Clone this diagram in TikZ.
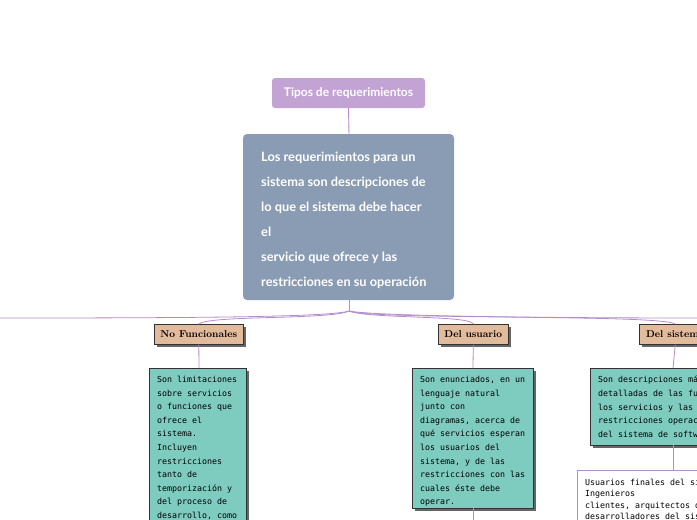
\documentclass[tikz,border=0pt]{standalone}
\usepackage{fontspec}
\newfontfamily\monof{DejaVu Sans Mono}
\newfontfamily\sansf{Lato}
\begin{document}
\begin{tikzpicture}[x=1pt,y=-1pt,
 gtext/.style={font=\monof\fontsize{8.3}{13.6}\selectfont,align=left,anchor=north west,inner sep=0pt}]
\definecolor{tanc}{HTML}{E2BA9C}
\definecolor{greenc}{HTML}{7ECCC0}
\definecolor{titlec}{HTML}{C3A3D3}
\definecolor{mainc}{HTML}{8A9CB4}
\definecolor{linec}{HTML}{B48CCB}
\useasboundingbox (0,0) rectangle (697,520);
\clip (0,0) rectangle (697,520);
% title
\node[fill=titlec,rounded corners=3pt,minimum width=153pt,minimum height=30pt,text=white,font=\sansf\bfseries\fontsize{12}{14}\selectfont] (t) at (348.5,93) {Tipos de requerimientos};
\fill[mainc,rounded corners=4pt] (243,134) rectangle (454,300);
\node[text=white,font=\sansf\bfseries\fontsize{12.8}{25}\selectfont,align=left,anchor=north west,inner sep=0pt] (m) at (261,152) {Los requerimientos para un\\sistema son descripciones de\\lo que el sistema debe hacer\\el\\servicio que ofrece y las\\restricciones en su operación};
\coordinate (mt) at (349,134);
\coordinate (mb) at (349,300);
\coordinate (mj) at (349,311);
\draw[linec,line width=0.9pt] (t.south) -- (mt);
\draw[linec,line width=0.9pt] (mb) -- (mj);
\coordinate (L) at (0,318);
\coordinate (R) at (697,318);
% headers with shadows
\foreach \n/\x/\y/\w/\t in {nf/154/324/89/No Funcionales, du/438/324/70/Del usuario, ds/639/324/72/Del sistema}{
 \fill[black!60] (\x+2.5,\y+2.5) rectangle ++(\w,20);
 \node[draw=black!80,fill=tanc,line width=0.6pt,font=\rmfamily\bfseries\fontsize{10}{12}\selectfont,minimum width=\w pt,minimum height=20pt,inner sep=0pt,anchor=north west] (\n) at (\x,\y) {\t};
}
\draw[linec,line width=0.8pt] (mj) .. controls (330,317) and (200,318) .. (L);
\draw[linec,line width=0.8pt] (mj) .. controls (330,320) and (210,315) .. (nf.north);
\draw[linec,line width=0.8pt] (mj) .. controls (370,319) and (470,315) .. (du.north);
\draw[linec,line width=0.8pt] (mj) .. controls (370,320) and (660,314) .. (ds.north);
\draw[linec,line width=0.8pt] (mj) .. controls (380,317) and (600,318) .. (R);
% green boxes
\fill[black!60] (151.5,370.5) rectangle (248.5,530);
\fill[greenc,draw=black!80,line width=0.6pt] (149,368) rectangle (246,530);
\node[gtext] (g1) at (157,376) {Son limitaciones\\sobre servicios\\o funciones que\\ofrece el\\sistema.\\Incluyen\\restricciones\\tanto de\\temporización y\\del proceso de\\desarrollo, como\\impuestas por};
\coordinate (g1t) at (199,368);
\draw[linec,line width=0.8pt] (nf.south) -- (g1t);
\fill[black!60] (414.5,370.5) rectangle (535.5,510.5);
\fill[greenc,draw=black!80,line width=0.6pt] (412,368) rectangle (533,508);
\node[gtext] (g2) at (420,376) {Son enunciados, en un\\lenguaje natural\\junto con\\diagramas, acerca de\\qué servicios esperan\\los usuarios del\\sistema, y de las\\restricciones con las\\cuales éste debe\\operar.};
\coordinate (g2t) at (473,368);
\coordinate (g2b) at (473,508);
\coordinate (g2e) at (473,520);
\draw[linec,line width=0.8pt] (du.south) -- (g2t);
\draw[linec,line width=0.8pt] (g2b) -- (g2e);
\fill[black!60] (592.5,370.5) rectangle (710,447.5);
\fill[greenc,draw=black!80,line width=0.6pt] (590,368) rectangle (710,445);
\node[gtext] (g3) at (598,376) {Son descripciones más\\detalladas de las funciones,\\los servicios y las\\restricciones operacionales\\del sistema de software.};
\coordinate (g3t) at (673,368);
\coordinate (g3b) at (673,445);
\coordinate (wt) at (673,470);
\draw[linec,line width=0.8pt] (ds.south) -- (g3t);
\draw[linec,line width=0.8pt] (g3b) -- (wt);
\draw[linec,fill=white,line width=0.8pt] (577,470) rectangle (710,530);
\node[gtext,font=\monof\fontsize{8.3}{11.3}\selectfont] (w) at (585,479) {Usuarios finales del sistema\\Ingenieros\\clientes, arquitectos del sistema\\desarrolladores del sistema};
\end{tikzpicture}
\end{document}
